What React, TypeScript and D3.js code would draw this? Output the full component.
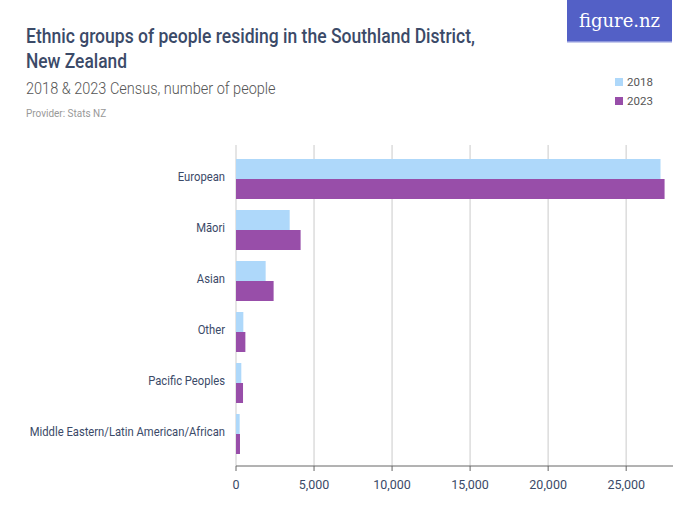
import React from "react";
import * as d3 from "d3";

const categories = [
  "European",
  "Māori",
  "Asian",
  "Other",
  "Pacific Peoples",
  "Middle Eastern/Latin American/African",
];
const years = ["2018", "2023"];
const values2018 = [27200, 3440, 1900, 470, 340, 235];
const values2023 = [27460, 4140, 2410, 600, 450, 255];
const xTicks = [0, 5000, 10000, 15000, 20000, 25000];
const colors = ["#aed8fa", "#984ea9"];

const W = 700;
const H = 525;
const left = 236;
const right = 673;
const gridTop = 145;
const axisY = 466;

const font = "Roboto, 'Liberation Sans', sans-serif";

export default function App() {
  const x = d3.scaleLinear().domain([0, 28000]).range([left, right]);
  const y = d3
    .scaleBand<string>()
    .domain(categories)
    .range([153.5, 459.5])
    .paddingInner(11 / 51)
    .paddingOuter(5.5 / 51);
  const sub = d3.scaleBand<string>().domain(years).range([0, y.bandwidth()]);
  const series = [values2018, values2023];
  const fmt = d3.format(",");

  return (
    <svg
      width={W}
      height={H}
      style={{ position: "absolute", left: 0, top: 0, background: "#fff" }}
    >
      {/* header */}
      <text x={26} y={43} fontFamily={font} fontSize={19.5} fill="#3b4a68" fontWeight={500} textLength={449} lengthAdjust="spacingAndGlyphs">
        Ethnic groups of people residing in the Southland District,
      </text>
      <text x={26} y={68} fontFamily={font} fontSize={19.5} fill="#3b4a68" fontWeight={500} textLength={101} lengthAdjust="spacingAndGlyphs">
        New Zealand
      </text>
      <g transform="translate(26, 94) scale(0.88, 1)">
        <text fontFamily={font} fontSize={16.5} fill="#555" fontWeight={300}>
          2018 &amp; 2023 Census, number of people
        </text>
      </g>
      <g transform="translate(26, 117) scale(0.95, 1)">
        <text fontFamily={font} fontSize={10.5} fill="#999">
          Provider: Stats NZ
        </text>
      </g>

      {/* logo */}
      <rect x={567} y={0} width={105} height={42} fill="#5360c6" />
      <rect x={567} y={41} width={105} height={1.5} fill="#8e97dc" />
      <text
        x={619.5}
        y={27}
        textAnchor="middle"
        fontFamily="'DejaVu Serif', 'Liberation Serif', serif"
        fontSize={18}
        fill="#fff"
      >
        figure.nz
      </text>

      {/* legend */}
      {years.map((yr, i) => (
        <g key={yr} transform={`translate(615, ${78 + i * 19})`}>
          <rect width={8} height={8} fill={colors[i]} />
          <text x={12} y={8} fontFamily={font} fontSize={11.5} fill="#555">
            {yr}
          </text>
        </g>
      ))}

      {/* grid */}
      {xTicks.map((t) => (
        <line
          key={t}
          x1={x(t)}
          x2={x(t)}
          y1={gridTop}
          y2={axisY}
          stroke="#dcdcdc"
          strokeWidth={1.5}
        />
      ))}

      {/* bars */}
      {categories.map((c, ci) => (
        <g key={c}>
          {years.map((yr, si) => (
            <rect
              key={yr}
              x={x(0)}
              y={(y(c) as number) + (sub(yr) as number)}
              width={x(series[si][ci]) - x(0)}
              height={sub.bandwidth()}
              fill={colors[si]}
            />
          ))}
          <g
            transform={`translate(225, ${(y(c) as number) + y.bandwidth() / 2 + 2}) scale(0.9, 1)`}
          >
            <text textAnchor="end" fontFamily={font} fontSize={12.5} fill="#3b4a68">
              {c}
            </text>
          </g>
        </g>
      ))}

      {/* x axis */}
      <line x1={left} x2={right} y1={axisY} y2={axisY} stroke="#666" strokeWidth={1} />
      {xTicks.map((t) => (
        <g key={t} transform={`translate(${x(t)}, ${axisY})`}>
          <line y1={0} y2={5} stroke="#666" />
          <text
            y={22.5}
            textAnchor="middle"
            fontFamily={font}
            fontSize={12.5}
            fill="#3b4a68"
          >
            {fmt(t)}
          </text>
        </g>
      ))}
    </svg>
  );
}
